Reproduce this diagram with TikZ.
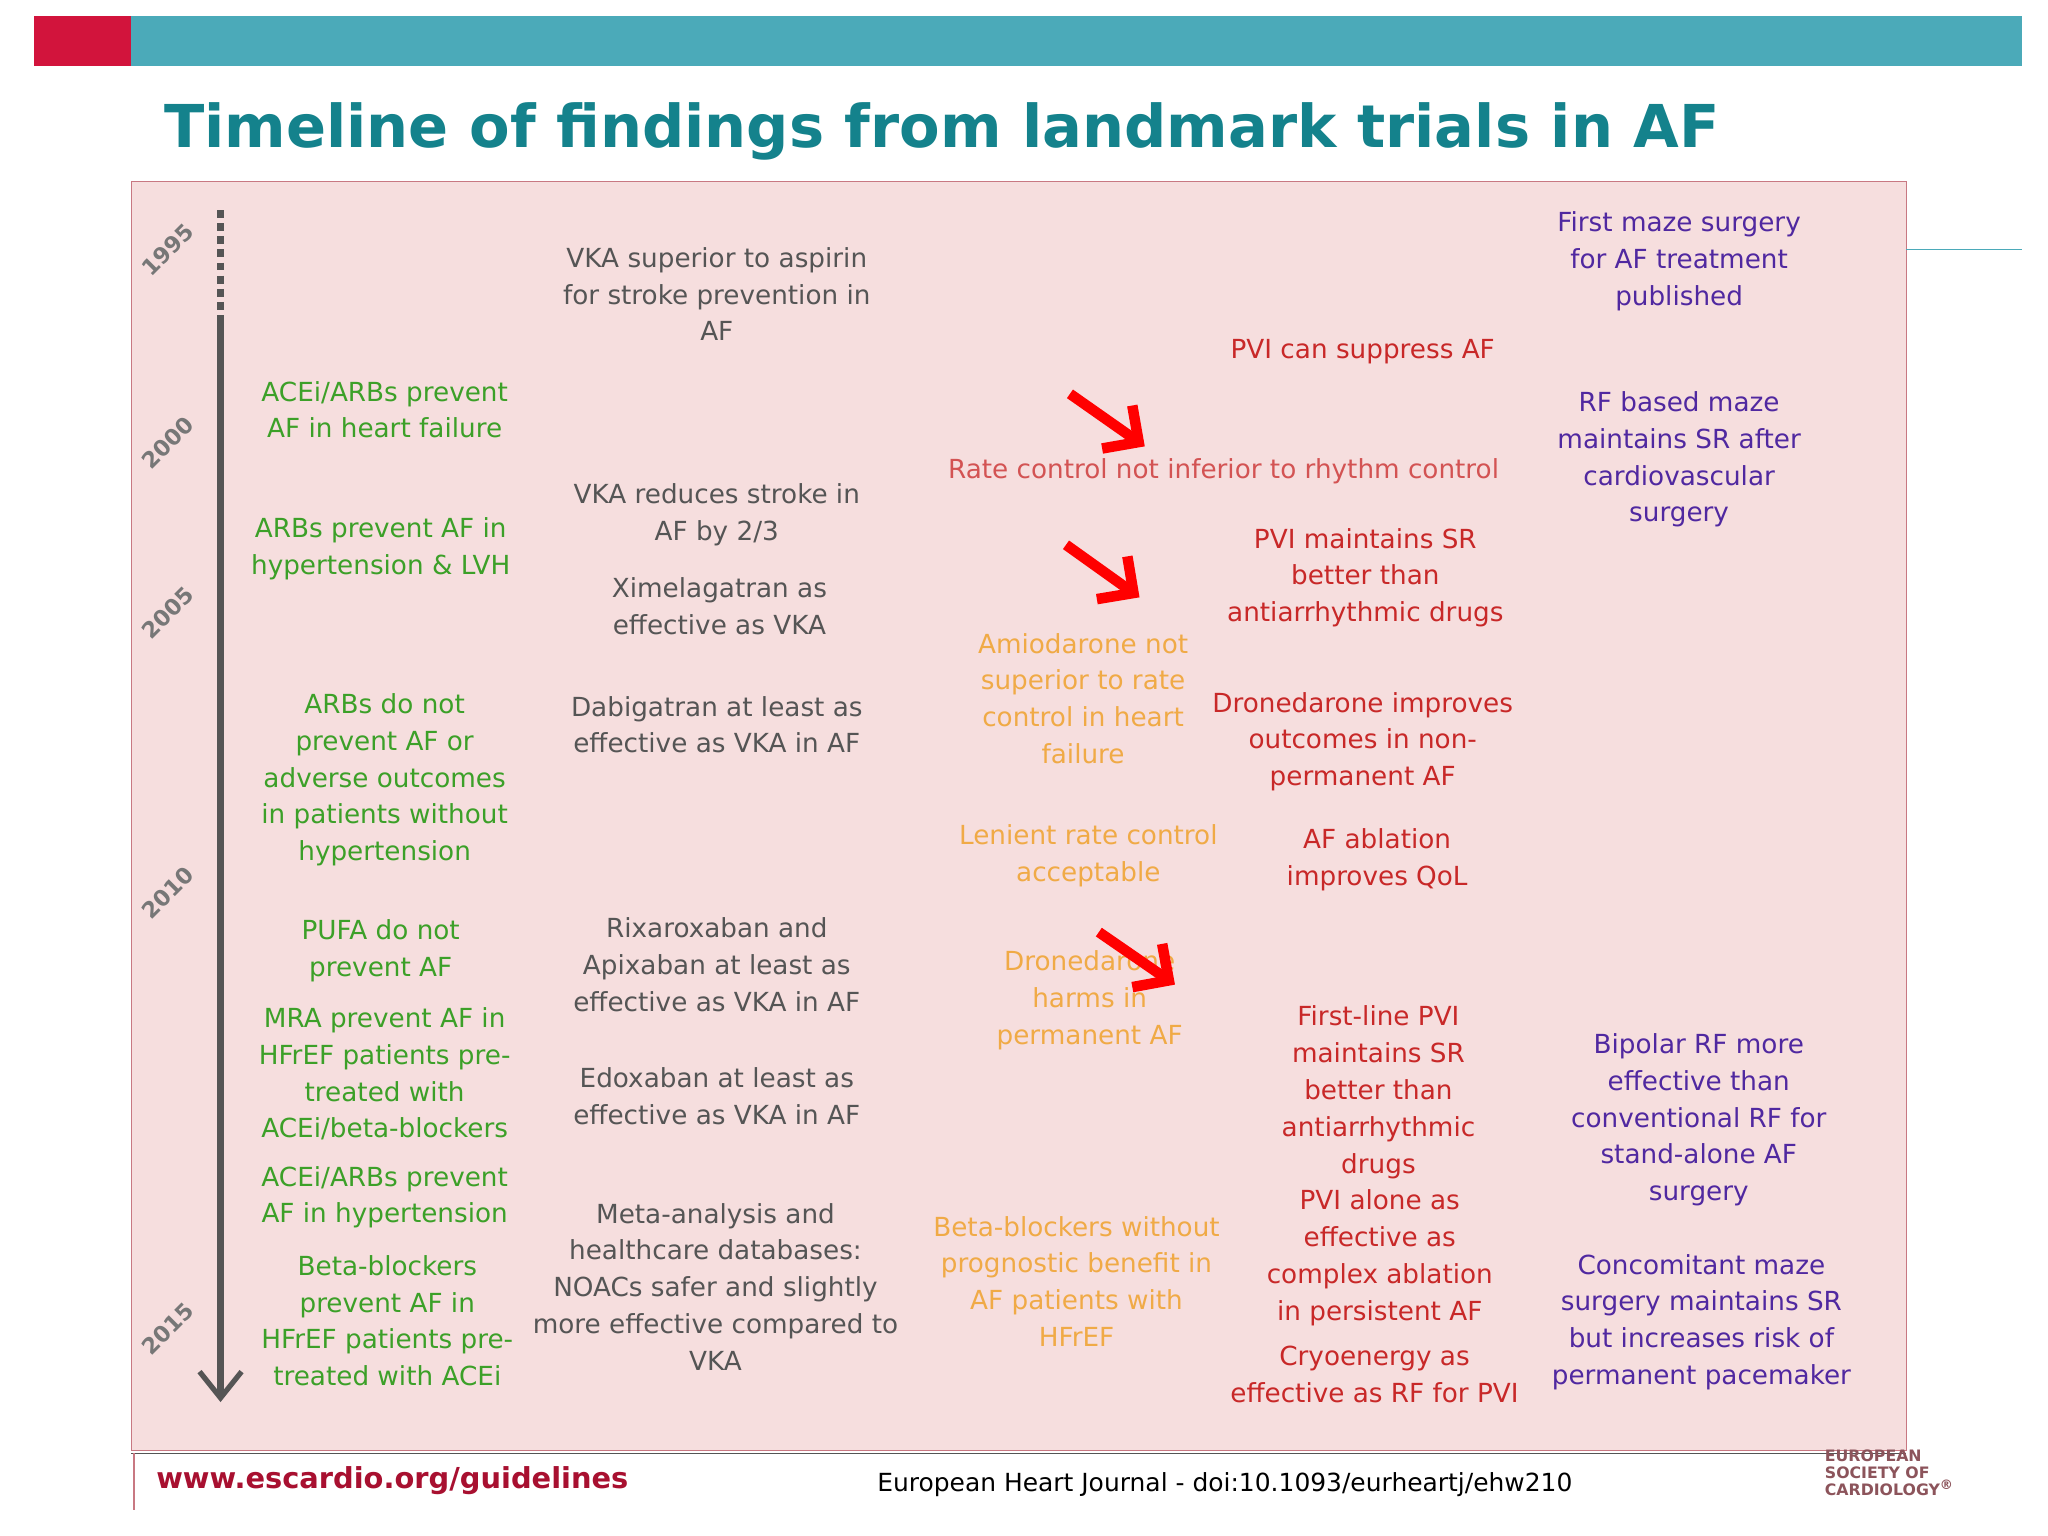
\documentclass[tikz,border=0pt]{standalone}
\usepackage{fontspec}
\setmainfont{DejaVu Sans}
\usetikzlibrary{arrows.meta}
\definecolor{teal1}{RGB}{75,170,185}
\definecolor{ttl}{RGB}{20,130,140}
\definecolor{pinkbg}{RGB}{246,222,222}
\definecolor{pinkbd}{RGB}{200,120,130}
\definecolor{grn}{RGB}{60,160,40}
\definecolor{gry}{RGB}{85,85,85}
\definecolor{org}{RGB}{240,170,70}
\definecolor{rd}{RGB}{200,40,40}
\definecolor{pur}{RGB}{80,40,160}
\definecolor{redbar}{RGB}{210,20,60}
\tikzset{
 t/.style={align=center,font=\fontsize{10}{14}\selectfont},
 g/.style={t,text=grn}, k/.style={t,text=gry}, o/.style={t,text=org},
 r/.style={t,text=rd}, p/.style={t,text=pur},
 yr/.style={rotate=45,font=\bfseries\fontsize{8.5}{10}\selectfont,text=gry!80},
 redarrow/.style={draw=red,line width=4pt,-{Straight Barb[length=10pt,width=20pt,line width=4pt]}}
}
\begin{document}
\begin{tikzpicture}[x=0.5pt,y=-0.5pt]
\useasboundingbox (0,0) rectangle (1560,1170);
\fill[white] (0,0) rectangle (1560,1170);
\fill[redbar] (26,12) rectangle (100,50);
\fill[teal1] (100,12) rectangle (1540,50);
\node[anchor=west,text=ttl,font=\bfseries\fontsize{22.5}{28}\selectfont] (title) at (118,100) {Timeline of findings from landmark trials in AF};
\draw[pinkbd,fill=pinkbg] (100,138) rectangle (1452,1105);
\draw[teal1] (1452,190) -- (1540,190);
\draw[gry] (100,1107) -- (1452,1107);
\draw[pinkbd,line width=1pt] (102,1107) -- (102,1150);
% timeline
\coordinate (d0) at (168,160); \coordinate (d1) at (168,242); \coordinate (d2) at (168,1068);
\draw[gry,line width=3pt,dotted] (d0) -- (d1);
\draw[gry,line width=3pt,-{Straight Barb[length=10pt,width=16pt,line width=2pt]}] (d1) -- (d2);
\node[yr] (y1) at (128,190) {1995};
\node[yr] (y2) at (128,337) {2000};
\node[yr] (y3) at (128,467) {2005};
\node[yr] (y4) at (128,680) {2010};
\node[yr] (y5) at (128,1012) {2015};
% green
\node[g] (g1) at (293,312) {ACEi/ARBs prevent\\AF in heart failure};
\node[g] (g2) at (290,418) {ARBs prevent AF in\\hypertension \& LVH};
\node[g] (g3) at (293,594) {ARBs do not\\prevent AF or\\adverse outcomes\\in patients without\\hypertension};
\node[g] (g4) at (290,724) {PUFA do not\\prevent AF};
\node[g] (g5) at (293,818) {MRA prevent AF in\\HFrEF patients pre-\\treated with\\ACEi/beta-blockers};
\node[g] (g6) at (293,912) {ACEi/ARBs prevent\\AF in hypertension};
\node[g] (g7) at (295,1006) {Beta-blockers\\prevent AF in\\HFrEF patients pre-\\treated with ACEi};
% gray
\node[k] (k1) at (546,224) {VKA superior to aspirin\\for stroke prevention in\\AF};
\node[k] (k2) at (546,392) {VKA reduces stroke in\\AF by 2/3};
\node[k] (k3) at (548,462) {Ximelagatran as\\effective as VKA};
\node[k] (k4) at (546,552) {Dabigatran at least as\\effective as VKA in AF};
\node[k] (k5) at (546,735) {Rixaroxaban and\\Apixaban at least as\\effective as VKA in AF};
\node[k] (k6) at (546,835) {Edoxaban at least as\\effective as VKA in AF};
\node[k] (k7) at (545,980) {Meta-analysis and\\healthcare databases:\\NOACs safer and slightly\\more effective compared to\\VKA};
% orange
\node[o] (o1) at (825,532) {Amiodarone not\\superior to rate\\control in heart\\failure};
\node[o] (o2) at (829,652) {Lenient rate control\\acceptable};
\node[o] (o3) at (830,762) {Dronedarone\\harms in\\permanent AF};
\node[o] (o4) at (820,976) {Beta-blockers without\\prognostic benefit in\\AF patients with\\HFrEF};
% red
\node[r] (r1) at (1038,268) {PVI can suppress AF};
\node[r,text=rd!80] (r2) at (932,359) {Rate control not inferior to rhythm control};
\node[r] (r3) at (1040,440) {PVI maintains SR\\better than\\antiarrhythmic drugs};
\node[r] (r4) at (1038,565) {Dronedarone improves\\outcomes in non-\\permanent AF};
\node[r] (r5) at (1049,655) {AF ablation\\improves QoL};
\node[r] (r6) at (1050,832) {First-line PVI\\maintains SR\\better than\\antiarrhythmic\\drugs};
\node[r] (r7) at (1051,958) {PVI alone as\\effective as\\complex ablation\\in persistent AF};
\node[r] (r8) at (1047,1047) {Cryoenergy as\\effective as RF for PVI};
% purple
\node[p] (p1) at (1279,199) {First maze surgery\\for AF treatment\\published};
\node[p] (p2) at (1279,350) {RF based maze\\maintains SR after\\cardiovascular\\surgery};
\node[p] (p3) at (1294,853) {Bipolar RF more\\effective than\\conventional RF for\\stand-alone AF\\surgery};
\node[p] (p4) at (1296,1007) {Concomitant maze\\surgery maintains SR\\but increases risk of\\permanent pacemaker};
% red arrows
\coordinate (a1) at (815,300); \coordinate (b1) at (872,340);
\coordinate (a2) at (812,415); \coordinate (b2) at (868,455);
\coordinate (a3) at (837,710); \coordinate (b3) at (895,750);
\draw[redarrow] (a1) -- (b1);
\draw[redarrow] (a2) -- (b2);
\draw[redarrow] (a3) -- (b3);
% footer
\node[anchor=west,text=redbar!80!black,font=\bfseries\fontsize{11}{14}\selectfont] (url) at (112,1128) {www.escardio.org/guidelines};
\node[font=\fontsize{9.5}{12}\selectfont] (doi) at (933,1131) {European Heart Journal - doi:10.1093/eurheartj/ehw210};
\node[align=left,text=pinkbd!70!black,font=\bfseries\fontsize{6}{6.5}\selectfont,anchor=west] (esc) at (1383,1122) {EUROPEAN\\SOCIETY OF\\CARDIOLOGY\textsuperscript{®}};
\end{tikzpicture}
\end{document}
